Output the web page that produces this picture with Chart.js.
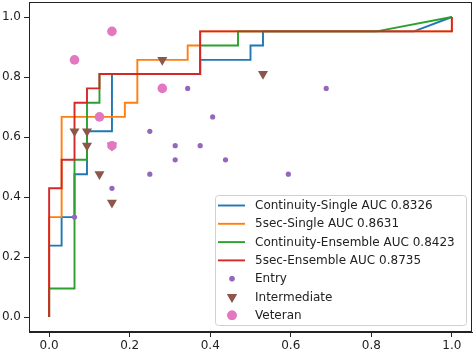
<!DOCTYPE html>
<html>
<head>
<meta charset="utf-8">
<title>ROC curves</title>
<script src="https://cdn.jsdelivr.net/npm/chart.js@4.4.1/dist/chart.umd.min.js"></script>
<style>
  html, body { margin: 0; padding: 0; background: #fff; }
  #wrap { width: 474px; height: 351px; }
</style>
</head>
<body>
<div id="wrap"><canvas id="rocChart" width="474" height="351"></canvas></div>
<script>
'use strict';

// ROC step curves (false positive rate / true positive rate)
let contSingleX = [0, 0, 0.031, 0.031, 0.063, 0.063, 0.094, 0.094, 0.156, 0.156, 0.375, 0.375, 0.5, 0.5, 0.531, 0.531, 0.906, 1.0];
let contSingleY = [0, 0.238, 0.238, 0.333, 0.333, 0.476, 0.476, 0.619, 0.619, 0.81, 0.81, 0.857, 0.857, 0.905, 0.905, 0.952, 0.952, 1.0];

let secSingleX = [0, 0, 0.031, 0.031, 0.188, 0.188, 0.219, 0.219, 0.344, 0.344, 0.375, 0.375, 1.0, 1.0];
let secSingleY = [0, 0.333, 0.333, 0.667, 0.667, 0.714, 0.714, 0.857, 0.857, 0.905, 0.905, 0.952, 0.952, 1.0];

let contEnsX = [0, 0, 0.063, 0.063, 0.094, 0.094, 0.125, 0.125, 0.375, 0.375, 0.469, 0.469, 0.813, 1.0];
let contEnsY = [0, 0.095, 0.095, 0.524, 0.524, 0.714, 0.714, 0.81, 0.81, 0.905, 0.905, 0.952, 0.952, 1.0];

let secEnsX = [0, 0, 0.031, 0.031, 0.063, 0.063, 0.094, 0.094, 0.125, 0.125, 0.375, 0.375, 1.0, 1.0];
let secEnsY = [0, 0.429, 0.429, 0.524, 0.524, 0.714, 0.714, 0.762, 0.762, 0.81, 0.81, 0.952, 0.952, 1.0];

// players by experience
let entryX = [0.063, 0.156, 0.25, 0.25, 0.313, 0.313, 0.375, 0.344, 0.406, 0.438, 0.594, 0.688];
let entryY = [0.333, 0.429, 0.476, 0.619, 0.524, 0.571, 0.571, 0.762, 0.667, 0.524, 0.476, 0.762];

let interX = [0.063, 0.094, 0.094, 0.125, 0.156, 0.156, 0.281, 0.531];
let interY = [0.619, 0.619, 0.571, 0.476, 0.381, 0.571, 0.857, 0.81];

let vetX = [0.063, 0.125, 0.156, 0.156, 0.281];
let vetY = [0.857, 0.667, 0.571, 0.952, 0.762];

let curveLabels = [
  'Continuity-Single AUC 0.8326',
  '5sec-Single AUC 0.8631',
  'Continuity-Ensemble AUC 0.8423',
  '5sec-Ensemble AUC 0.8735'
];
let groupLabels = ['Entry', 'Intermediate', 'Veteran'];

let tickValues = [0, 0.2, 0.4, 0.6, 0.8, 1.0];

let fontFamily = '"DejaVu Sans", sans-serif';


function toPoints(xs, ys) {
  let pts = [];
  for (let i = 0; i < xs.length; i++) {
    pts.push({ x: xs[i], y: ys[i] });
  }
  return pts;
}

function lineSet(label, xs, ys, color, order) {
  return {
    type: 'line',
    label: label,
    data: toPoints(xs, ys),
    borderColor: color,
    backgroundColor: color,
    borderWidth: 1.9,
    pointRadius: 0,
    fill: false,
    tension: 0,
    order: order
  };
}

function dotSet(label, xs, ys, color, style, radius, rotation, order) {
  return {
    type: 'scatter',
    label: label,
    data: toPoints(xs, ys),
    backgroundColor: color,
    borderColor: color,
    borderWidth: 0,
    pointStyle: style,
    pointRadius: radius,
    pointRotation: rotation,
    order: order
  };
}

let datasets = [
  lineSet(curveLabels[0], contSingleX, contSingleY, '#1f77b4', 7),
  lineSet(curveLabels[1], secSingleX, secSingleY, '#ff7f0e', 6),
  lineSet(curveLabels[2], contEnsX, contEnsY, '#2ca02c', 5),
  lineSet(curveLabels[3], secEnsX, secEnsY, '#d62728', 4),
  dotSet(groupLabels[0], entryX, entryY, '#9467bd', 'circle', 2.6, 0, 3),
  dotSet(groupLabels[1], interX, interY, '#8c564b', 'triangle', 5.8, 180, 2),
  dotSet(groupLabels[2], vetX, vetY, '#e377c2', 'circle', 4.8, 0, 1)
];


// frame + legend drawn inside the plot, like matplotlib's "lower right"
let framePlugin = {
  id: 'frameAndLegend',
  afterDraw(chart) {
    let ctx = chart.ctx;
    let area = chart.chartArea;
    ctx.save();

    ctx.strokeStyle = '#222';
    ctx.lineWidth = 1;
    ctx.strokeRect(area.left + 0.5, area.top + 0.5, area.right - area.left - 1, area.bottom - area.top - 1);

    let boxW = 251;
    let boxH = 130;
    let boxX = area.right - 6 - boxW;
    let boxY = area.bottom - 7 - boxH;

    ctx.beginPath();
    ctx.roundRect(boxX + 0.5, boxY + 0.5, boxW, boxH, 3);
    ctx.fillStyle = 'rgba(255,255,255,0.8)';
    ctx.fill();
    ctx.strokeStyle = '#d0d0d0';
    ctx.stroke();

    let rowH = 18.3;
    let firstRow = boxY + 10.5;
    let markX = boxX + 17;
    let textX = boxX + 40;

    ctx.font = '12px ' + fontFamily;
    ctx.textBaseline = 'middle';
    ctx.textAlign = 'left';

    for (let i = 0; i < datasets.length; i++) {
      let ds = datasets[i];
      let cy = firstRow + i * rowH;
      if (ds.type === 'line') {
        ctx.beginPath();
        ctx.moveTo(boxX + 3, cy);
        ctx.lineTo(boxX + 30, cy);
        ctx.strokeStyle = ds.borderColor;
        ctx.lineWidth = ds.borderWidth;
        ctx.stroke();
      } else {
        ctx.fillStyle = ds.backgroundColor;
        Chart.helpers.drawPoint(ctx, {
          pointStyle: ds.pointStyle,
          radius: ds.pointRadius,
          rotation: ds.pointRotation,
          borderWidth: 0
        }, markX, cy);
        ctx.fill();
      }
      ctx.fillStyle = '#222';
      ctx.fillText(ds.label, textX, cy + 0.5);
    }

    ctx.restore();
  }
};


function axisOptions(size, isX) {
  return {
    type: 'linear',
    min: -0.05,
    max: 1.05,
    grid: {
      display: true,
      drawOnChartArea: false,
      drawTicks: true,
      tickLength: 5,
      color: '#222'
    },
    border: { display: true, color: '#222', width: 1 },
    ticks: {
      font: { family: fontFamily, size: 12 },
      color: '#222',
      padding: isX ? 2 : 3,
      callback: function(value) { return value.toFixed(1); }
    },
    afterBuildTicks: function(scale) {
      scale.ticks = tickValues.map(function(v) { return { value: v }; });
    },
    afterFit: function(scale) {
      if (isX) {
        scale.height = size;
      } else {
        scale.width = size;
      }
      // labels sit inside the padded range, no extra room needed
      scale.paddingTop = 0;
      scale.paddingBottom = 0;
      scale.paddingLeft = 0;
      scale.paddingRight = 0;
    }
  };
}


let ctx = document.getElementById('rocChart').getContext('2d');
let rocChart = new Chart(ctx, {
  type: 'line',
  data: { datasets: datasets },
  options: {
    responsive: false,
    animation: false,
    devicePixelRatio: 1,
    layout: {
      autoPadding: false,
      padding: { top: 2, right: 2, left: 0, bottom: 0 }
    },
    plugins: {
      legend: { display: false },
      tooltip: { enabled: false }
    },
    scales: {
      x: axisOptions(19, true),
      y: axisOptions(29, false)
    }
  },
  plugins: [framePlugin]
});
</script>
</body>
</html>
